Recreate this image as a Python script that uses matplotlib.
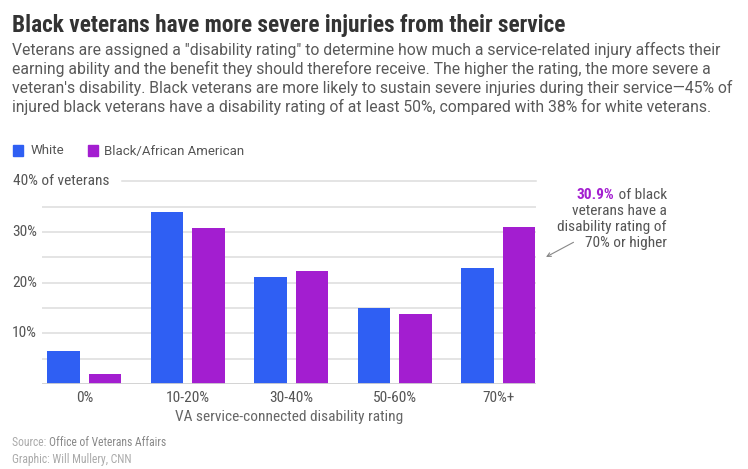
import matplotlib
matplotlib.use('Agg')
import matplotlib.pyplot as plt
import numpy as np
from matplotlib import font_manager, transforms
from matplotlib.patches import Rectangle

# ---------------- data ----------------
categories = ['0%', '10-20%', '30-40%', '50-60%', '70%+']
white = [6.6, 34.0, 21.2, 15.0, 22.9]
black = [2.0, 30.8, 22.3, 13.9, 30.9]
series_names = ['White', 'Black/African American']
ytick_vals = [10, 20, 30]
ytick_labels = ['10%', '20%', '30%']
ytop_label = '40% of veterans'
grid_vals = [5, 10, 15, 20, 25, 30, 35]

title = 'Black veterans have more severe injuries from their service'
subtitle = [
    'Veterans are assigned a "disability rating" to determine how much a service-related injury affects their',
    'earning ability and the benefit they should therefore receive. The higher the rating, the more severe a',
    "veteran's disability. Black veterans are more likely to sustain severe injuries during their service\u201445% of",
    'injured black veterans have a disability rating of at least 50%, compared with 38% for white veterans.',
]
xlabel = 'VA service-connected disability rating'
annot_value = '30.9%'
annot_lines = [' of black', 'veterans have a', 'disability rating of', '70% or higher']

BLUE = '#2F5FF3'
PURPLE = '#A31ED0'

W, H, DPI = 748, 469, 100
fig = plt.figure(figsize=(W / DPI, H / DPI), dpi=DPI, facecolor='white')
renderer = fig.canvas.get_renderer()

available = {f.name for f in font_manager.fontManager.ttflist}
def pick(cands):
    for c in cands:
        if c in available:
            return c
    return 'DejaVu Sans'

COND = pick(['Roboto Condensed', 'Liberation Sans Narrow', 'Roboto', 'Liberation Sans'])
REG = pick(['Roboto', 'Liberation Sans', 'DejaVu Sans'])

def fx(px):
    return px / W

def fy(py):
    return 1 - py / H

def width_of(t):
    return t.get_window_extent(renderer=renderer).width

def fit(t, target_px):
    t.set_fontsize(t.get_fontsize() * target_px / width_of(t))
    return t.get_fontsize()

# ---------------- axes ----------------
ax_l, ax_r, ax_b, ax_t = 42, 536, 384, 181.3
ax = fig.add_axes([fx(ax_l), fy(ax_b), (ax_r - ax_l) / W, (ax_b - ax_t) / H])
ax.set_facecolor('none')
x = np.arange(len(categories))
bw = 0.314
off = 0.199
ax.bar(x - off, white, bw, color=BLUE, zorder=3, label=series_names[0])
ax.bar(x + off, black, bw, color=PURPLE, zorder=3, label=series_names[1])
ax.set_xlim(-0.409, 4.364)
ax.set_ylim(0, 40)
for s in ax.spines.values():
    s.set_visible(False)
for g in grid_vals:
    ax.axhline(g, color='#dcdcdc', lw=1.1, zorder=1)
ax.axhline(40, xmin=(122 - ax_l) / (ax_r - ax_l), xmax=1, color='#dcdcdc', lw=1.1, zorder=1, clip_on=False)
ax.axhline(0, color='#d0d0d0', lw=1.3, zorder=4)
ax.set_yticks([])

# tick label size (condensed font) fitted to "40% of veterans"
blend = transforms.blended_transform_factory(fig.transFigure, ax.transData)
t40 = fig.text(fx(13), 40, ytop_label, transform=blend, family=COND, fontsize=10,
               color='#555555', va='center', ha='left')
tick_fs = fit(t40, 96)
for v, lab in zip(ytick_vals, ytick_labels):
    fig.text(fx(12), v, lab, transform=blend, family=COND, fontsize=tick_fs,
             color='#555555', va='center', ha='left')

ax.set_xticks(x)
ax.set_xticklabels(categories, family=COND, fontsize=tick_fs, color='#555555')
ax.tick_params(axis='x', length=0, pad=5)

xl = fig.text(fx((ax_l + ax_r) / 2), fy(416.7), xlabel, family=COND, fontsize=11,
              color='#666666', ha='center', va='center')
fit(xl, 228)

# ---------------- title & subtitle ----------------
tt = fig.text(fx(12), fy(32), title, family=COND, weight='bold', fontsize=16,
              color='#333333', ha='left', va='baseline')
fit(tt, 554)

sub_base = [55, 74, 93, 112]
st0 = fig.text(fx(12), fy(sub_base[0]), subtitle[0], family=REG, fontsize=11,
               color='#595959', ha='left', va='baseline')
sub_fs = fit(st0, 706)
for line, yb in zip(subtitle[1:], sub_base[1:]):
    fig.text(fx(12), fy(yb), line, family=REG, fontsize=sub_fs,
             color='#595959', ha='left', va='baseline')

# ---------------- legend ----------------
leg_items = [(12.7, BLUE), (87.5, PURPLE)]
for sx, col in leg_items:
    fig.patches.append(Rectangle((fx(sx), fy(156)), 10.5 / W, 10.5 / H,
                                 transform=fig.transFigure, color=col, figure=fig))
lt = fig.text(fx(104), fy(151), series_names[1], family=REG, fontsize=11,
              color='#555555', ha='left', va='center')
leg_fs = fit(lt, 140)
fig.text(fx(30.7), fy(151), series_names[0], family=REG, fontsize=leg_fs,
         color='#555555', ha='left', va='center')

# ---------------- annotation ----------------
ann_right = 666.7
ann_base = [198.5, 214.5, 231, 246.5]
tmp = fig.text(fx(ann_right), fy(ann_base[2]), annot_lines[2], family=COND, fontsize=11,
               color='#555555', ha='right', va='baseline')
ann_fs = fit(tmp, 109)
for line, yb in zip([annot_lines[1], annot_lines[3]], [ann_base[1], ann_base[3]]):
    fig.text(fx(ann_right), fy(yb), line, family=COND, fontsize=ann_fs,
             color='#555555', ha='right', va='baseline')
t1 = fig.text(fx(ann_right), fy(ann_base[0]), annot_lines[0], family=COND, fontsize=ann_fs,
              color='#555555', ha='right', va='baseline')
w1 = width_of(t1)
fig.text(fx(ann_right - w1), fy(ann_base[0]), annot_value, family=COND, fontsize=ann_fs,
         weight='bold', color=PURPLE, ha='right', va='baseline')

ax.annotate('', xy=(546, H - 257), xytext=(573.5, H - 242.3),
            xycoords='figure pixels', textcoords='figure pixels',
            arrowprops=dict(arrowstyle='->', color='#888888', lw=0.8,
                            shrinkA=0, shrinkB=0, mutation_scale=7))

# ---------------- source ----------------
src_a, src_b = 'Source: ', 'Office of Veterans Affairs'
tmp2 = fig.text(fx(12.3), fy(442.7), src_a + src_b, family=COND, fontsize=9,
                color='none', ha='left', va='center')
src_fs = fit(tmp2, 154)
tmp2.remove()
sa = fig.text(fx(12.3), fy(442.7), src_a, family=COND, fontsize=src_fs,
              color='#aaaaaa', ha='left', va='center')
wa = width_of(sa)
fig.text(fx(12.3 + wa), fy(442.7), src_b, family=COND, fontsize=src_fs,
         color='#888888', ha='left', va='center')
fig.text(fx(12.3), fy(459), 'Graphic: Will Mullery, CNN', family=COND, fontsize=src_fs,
         color='#aaaaaa', ha='left', va='center')

fig.savefig('out.png', dpi=DPI, facecolor='white')
